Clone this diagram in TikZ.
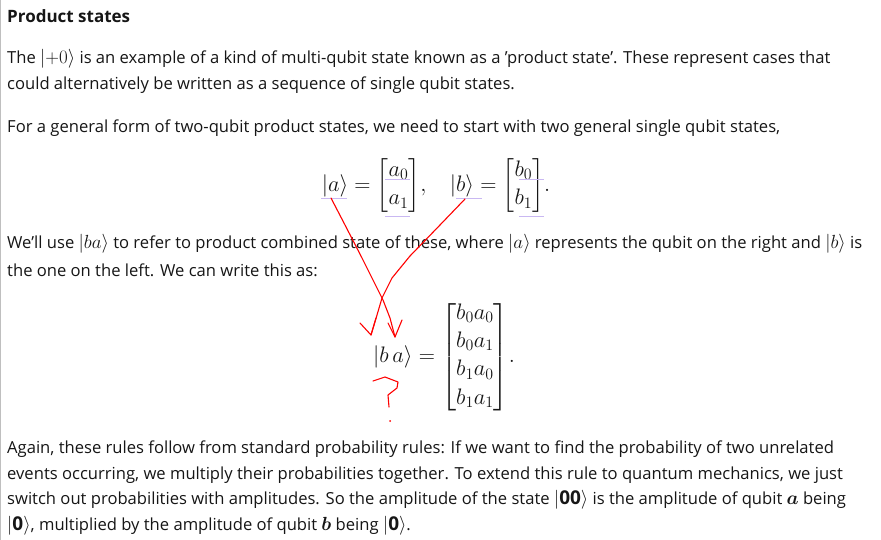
\RequirePackage{fix-cm}
\documentclass[tikz,border=0pt]{standalone}
\usepackage{amsmath,amssymb}
\usepackage{fontspec}
\setmainfont{Open Sans}
\DeclareMathSizes{16.6}{19}{13.5}{10}
\definecolor{txt}{HTML}{161616}
\definecolor{ul}{HTML}{C9B8F2}
\definecolor{pen}{HTML}{FF0000}
\begin{document}
\begin{tikzpicture}[x=1pt,y=-1pt,
  line/.style={anchor=west,inner sep=0pt,text=txt,font=\fontsize{16.6}{20}\selectfont},
  eq/.style={inner sep=0pt,text=txt,font=\fontsize{16.6}{20}\selectfont,scale=1.18,transform shape},
  ink/.style={draw=pen,line width=1.1pt,line cap=round,line join=round},
  uline/.style={draw=ul,line width=1pt}]
\useasboundingbox (0,0) rectangle (881,540);
\fill[white] (0,0) rectangle (881,540);
\draw[gray!50] (0.5,0) -- (0.5,540);
\node[line,font=\fontsize{17}{20}\bfseries] (t) at (7,16) {Product states};
\node[line] (p1) at (7,59) {The $|{+}0\rangle$ is an example of a kind of multi-qubit state known as a 'product state'. These represent cases that};
\node[line] (p2) at (7,85) {could alternatively be written as a sequence of single qubit states.};
\node[line] (p3) at (7,128) {For a general form of two-qubit product states, we need to start with two general single qubit states,};
\node[eq] (e1) at (436,186) {$|a\rangle = \begin{bmatrix} a_0\\[4pt] a_1\end{bmatrix}\!,\quad |b\rangle = \begin{bmatrix} b_0\\[4pt] b_1\end{bmatrix}\!.$};
\node[line] (p4) at (7,244) {We'll use $|ba\rangle$ to refer to product combined state of these, where $|a\rangle$ represents the qubit on the right and $|b\rangle$ is};
\node[line] (p5) at (7,270) {the one on the left. We can write this as:};
\node[eq] (e2) at (444,357) {$|b\,a\rangle = \begin{bmatrix} b_0a_0\\[4pt] b_0a_1\\[4pt] b_1a_0\\[4pt] b_1a_1\end{bmatrix}\!.$};
\node[line] (p6) at (7,449) {Again, these rules follow from standard probability rules: If we want to find the probability of two unrelated};
\node[line] (p7) at (7,475) {events occurring, we multiply their probabilities together. To extend this rule to quantum mechanics, we just};
\node[line] (p8) at (7,500) {switch out probabilities with amplitudes. So the amplitude of the state $|\mathbf{00}\rangle$ is the amplitude of qubit $\boldsymbol{a}$ being};
\node[line] (p9) at (7,526) {$|\mathbf{0}\rangle$, multiplied by the amplitude of qubit $\boldsymbol{b}$ being $|\mathbf{0}\rangle$.};
% underlines
\draw[uline] (321,199) -- (347,199);
\draw[uline] (385,180) -- (410,180);
\draw[uline] (385,217) -- (410,217);
\draw[uline] (456,199) -- (482,199);
\draw[uline] (519,180) -- (544,180);
\draw[uline] (519,217) -- (544,217);
% red ink
\coordinate (as) at (331,198);
\coordinate (at) at (395,337);
\coordinate (bs) at (465,199);
\coordinate (bt) at (371,335);
\draw[ink] (as) -- (345,225) -- (362,258) -- (373,280) -- (383,300) -- (390,318) -- (at);
\draw[ink] (388,323) -- (at) -- (402,320);
\draw[ink] (bs) -- (440,225) -- (410,256) -- (392,278) -- (382,298) -- (377,315) -- (bt);
\draw[ink] (360,323) -- (bt) -- (376,318);
\draw[ink] (373,381) -- (385,377) -- (398,382) -- (397,388) -- (388,395) -- (389,407);
\fill[pen] (390,421) circle (1pt);
\end{tikzpicture}
\end{document}
